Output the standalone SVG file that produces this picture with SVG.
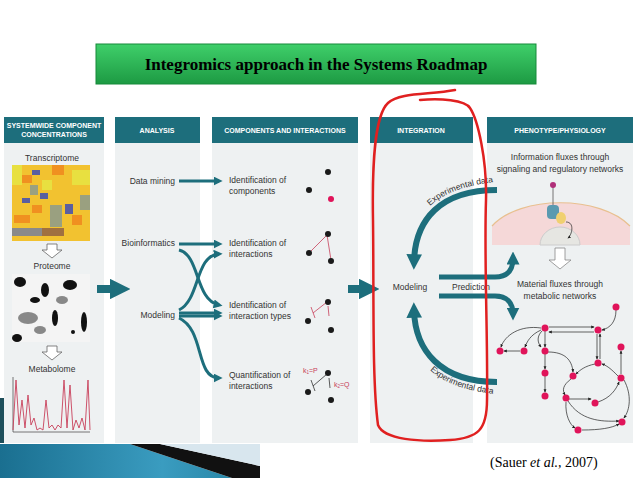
<svg xmlns="http://www.w3.org/2000/svg" width="638" height="478" viewBox="0 0 638 478">
<defs>
<linearGradient id="tg" x1="0" y1="0" x2="0" y2="1"><stop offset="0" stop-color="#3fcf6a"/><stop offset="1" stop-color="#1d9a43"/></linearGradient>
<linearGradient id="fg" x1="0" y1="0" x2="1" y2="0"><stop offset="0" stop-color="#1a6f90"/><stop offset="0.7" stop-color="#3a9cc0"/><stop offset="1" stop-color="#2a88a8"/></linearGradient>
<marker id="ta" viewBox="0 0 10 10" refX="6" refY="5" markerWidth="3" markerHeight="3" orient="auto"><path d="M0,0L10,5L0,10z" fill="#1d6e7c"/></marker>
<marker id="ka" viewBox="0 0 10 10" refX="8" refY="5" markerWidth="5" markerHeight="5" orient="auto"><path d="M0,1L10,5L0,9z" fill="#222"/></marker>
<marker id="ba" viewBox="0 0 10 10" refX="5" refY="5" markerWidth="2.6" markerHeight="2.6" orient="auto"><path d="M0,0L10,5L0,10z" fill="#1d6e7c"/></marker>
</defs>
<style>
.pn{fill:#eef1f2}
.hd{fill:#1d6e7c}
.ht{font-family:"Liberation Sans",sans-serif;font-size:7px;font-weight:bold;fill:#fff;text-anchor:middle}
.t{font-family:"Liberation Sans",sans-serif;font-size:8.5px;fill:#333}
.c{text-anchor:middle}
.r{text-anchor:end}
.ar{fill:none;stroke:#1d6e7c;stroke-width:3;marker-end:url(#ta)}
.big{fill:none;stroke:#1d6e7c;stroke-width:8;marker-end:url(#ba)}
.k{fill:#1a1a1a}
.m{fill:#e0145a}
.na{fill:none;stroke:#222;stroke-width:0.7;marker-end:url(#ka)}
</style>
<rect width="638" height="478" fill="#fff"/>
<g id="title"><rect x="96" y="44" width="440" height="40" fill="url(#tg)" stroke="#168a3a"/><text x="316" y="70" font-family="Liberation Serif,serif" font-size="17" font-weight="bold" text-anchor="middle" fill="#000">Integromics approach in the Systems Roadmap</text></g>
<g id="panels">
<rect class="pn" x="4" y="117" width="100" height="326"/><rect class="hd" x="4" y="117" width="100" height="26"/>
<text class="ht" x="54" y="128">SYSTEMWIDE COMPONENT</text><text class="ht" x="54" y="137">CONCENTRATIONS</text>
<rect class="pn" x="115" y="117" width="85" height="326"/><rect class="hd" x="115" y="117" width="85" height="26"/><text class="ht" x="157" y="133">ANALYSIS</text>
<rect class="pn" x="212" y="117" width="146" height="326"/><rect class="hd" x="212" y="117" width="146" height="26"/><text class="ht" x="285" y="133">COMPONENTS AND INTERACTIONS</text>
<rect class="pn" x="370" y="117" width="103" height="326"/><rect class="hd" x="370" y="117" width="103" height="26"/><text class="ht" x="421" y="133">INTEGRATION</text>
<rect class="pn" x="487" y="117" width="146" height="326"/><rect class="hd" x="487" y="117" width="146" height="26"/><text class="ht" x="560" y="133">PHENOTYPE/PHYSIOLOGY</text>
<rect x="0" y="398" width="4" height="45" fill="#1d4e5a"/>
</g>
<g id="col1">
<text class="t c" x="52" y="161">Transcriptome</text>
<rect x="12" y="165" width="78" height="76" fill="#f2c230"/>
<g fill="#e8e040"><rect x="12" y="165" width="10" height="20"/><rect x="42" y="180" width="10" height="10"/><rect x="72" y="170" width="18" height="15"/></g>
<g fill="#f09020"><rect x="22" y="175" width="10" height="8"/><rect x="52" y="165" width="12" height="10"/><rect x="32" y="205" width="10" height="8"/><rect x="14" y="215" width="16" height="8"/><rect x="72" y="215" width="10" height="10"/></g>
<g fill="#5a5fa0"><rect x="32" y="170" width="8" height="5"/><rect x="40" y="193" width="8" height="6"/><rect x="65" y="204" width="8" height="10"/><rect x="22" y="198" width="8" height="5"/></g>
<g fill="#9aa080"><rect x="50" y="205" width="12" height="22"/><rect x="80" y="195" width="10" height="15"/><rect x="30" y="185" width="8" height="10"/></g>
<rect x="12" y="228" width="30" height="8" fill="#8a8a8a"/><rect x="42" y="228" width="22" height="8" fill="#a07040"/>
<path d="M47,244h10v6h5l-10,8l-10-8h5z" fill="#fff" stroke="#666" stroke-width="0.8"/>
<text class="t c" x="52" y="269">Proteome</text>
<rect x="12" y="274" width="78" height="68" fill="#f4f4f4"/>
<g fill="#111"><ellipse cx="20" cy="282" rx="6" ry="5"/><ellipse cx="45" cy="290" rx="4" ry="7"/><ellipse cx="70" cy="285" rx="7" ry="5"/><ellipse cx="55" cy="318" rx="3" ry="8"/><ellipse cx="84" cy="322" rx="3" ry="10"/><ellipse cx="17" cy="338" rx="5" ry="4"/><ellipse cx="35" cy="300" rx="5" ry="3"/><ellipse cx="73" cy="332" rx="2" ry="2"/></g>
<g fill="#888"><ellipse cx="28" cy="318" rx="10" ry="6"/><ellipse cx="62" cy="300" rx="6" ry="4"/><ellipse cx="40" cy="330" rx="6" ry="4"/></g>
<path d="M47,346h10v6h5l-10,8l-10-8h5z" fill="#fff" stroke="#666" stroke-width="0.8"/>
<text class="t c" x="52" y="372">Metabolome</text>
<path d="M13,377V432H90" fill="none" stroke="#555" stroke-width="0.8"/>
<path d="M13,430L16,380L19,425L22,400L25,428L28,395L31,425L34,418L37,430L40,428L43,430L46,400L49,428L52,425L55,430L58,425L61,428L64,380L67,428L70,385L73,430L76,420L79,428L82,418L85,430L88,380L90,430" fill="none" stroke="#c8405a" stroke-width="0.9"/>
</g>
<g id="connectors">
<path class="big" d="M97,289H120"/>
<path class="big" d="M348,289H369"/>
<path class="ar" d="M179,181H219"/>
<path class="ar" d="M179,244H219"/>
<path class="ar" d="M179,250C200,255 195,300 219,305"/>
<path class="ar" d="M179,310C200,300 195,255 219,254"/>
<path class="ar" d="M179,313H219"/>
<path class="ar" d="M179,316H219"/>
<path class="ar" d="M179,318C205,330 195,378 219,378"/>
<path fill="none" stroke="#1d6e7c" stroke-width="6" d="M497,190C440,190 415,220 414,262" marker-end="url(#ba)"/>
<path fill="none" stroke="#1d6e7c" stroke-width="6" d="M497,382C440,382 415,350 414,310" marker-end="url(#ba)"/>
<path fill="none" stroke="#1d6e7c" stroke-width="5" d="M439,277H495C508,277 513,270 513,258" marker-end="url(#ba)"/>
<path fill="none" stroke="#1d6e7c" stroke-width="5" d="M439,296H495C508,296 513,304 513,314" marker-end="url(#ba)"/>
</g>
<g id="col2">
<text class="t r" x="175" y="184">Data mining</text>
<text class="t r" x="175" y="246">Bioinformatics</text>
<text class="t r" x="175" y="318">Modeling</text>
</g>
<g id="col3">
<text class="t" x="229" y="183">Identification of</text><text class="t" x="229" y="194">components</text>
<text class="t" x="229" y="246">Identification of</text><text class="t" x="229" y="257">interactions</text>
<text class="t" x="229" y="308">Identification of</text><text class="t" x="229" y="319">interaction types</text>
<text class="t" x="229" y="378">Quantification of</text><text class="t" x="229" y="389">interactions</text>
<circle class="k" cx="328" cy="172" r="3"/><circle class="k" cx="309" cy="190" r="3"/><circle class="m" cx="331" cy="199" r="3"/>
<path d="M310,252L327,235L331,260" fill="none" stroke="#c8405a" stroke-width="0.8"/>
<circle class="k" cx="328" cy="234" r="3"/><circle class="k" cx="309" cy="253" r="3"/><circle class="k" cx="331" cy="261" r="3"/>
<path d="M313,313L327,302M311,307L315,318M329,316L328,306" fill="none" stroke="#c8405a" stroke-width="0.8"/>
<circle class="k" cx="328" cy="302" r="3"/><circle class="k" cx="308" cy="321" r="3"/><circle class="k" cx="331" cy="330" r="3"/>
<path d="M313,386L327,374M311,380L315,391M330,388L329,378" fill="none" stroke="#333" stroke-width="0.8"/>
<circle class="k" cx="328" cy="373" r="3"/><circle class="k" cx="308" cy="392" r="3"/><circle class="k" cx="331" cy="400" r="3"/>
<text x="303" y="373" font-family="Liberation Sans,sans-serif" font-size="7" fill="#c8405a">k<tspan font-size="4.5" dy="1">1</tspan><tspan dy="-1">=P</tspan></text>
<text x="334" y="387" font-family="Liberation Sans,sans-serif" font-size="7" fill="#c8405a">k<tspan font-size="4.5" dy="1">2</tspan><tspan dy="-1">=Q</tspan></text>
</g>
<g id="col4">
<text class="t c" x="410" y="290">Modeling</text>
<text class="t c" x="471" y="290">Prediction</text>
<path id="ed1" d="M430,206C445,192 468,184 505,181" fill="none"/>
<path id="ed2" d="M430,370C445,384 468,392 505,395" fill="none"/>
<text font-family="Liberation Sans,sans-serif" font-size="8.5" fill="#333"><textPath href="#ed1">Experimental data</textPath></text>
<text font-family="Liberation Sans,sans-serif" font-size="8.5" fill="#333"><textPath href="#ed2">Experimental data</textPath></text>
</g>
<g id="col5">
<text class="t c" x="560" y="160">Information fluxes through</text>
<text class="t c" x="560" y="172">signaling and regulatory networks</text>
<path d="M492,226C520,195 600,195 630,226V245H492z" fill="#f5d8d8"/>
<path d="M492,226C520,195 600,195 630,226" fill="none" stroke="#e8c090" stroke-width="1.2"/>
<path d="M540,245A20,18 0 0 1 580,245z" fill="#e6e6e2" stroke="#ccc"/>
<line x1="553" y1="186" x2="553" y2="205" stroke="#555" stroke-width="0.8"/>
<circle cx="553" cy="185" r="3" fill="#b0307a"/>
<rect x="547" y="205" width="12" height="14" rx="4" fill="#5a9ab0"/>
<ellipse cx="561" cy="218" rx="5" ry="6" fill="#f0d070"/>
<path d="M566,222C575,222 572,235 568,238" class="na"/>
<path d="M555,248h10v12h6l-11,9l-11-9h6z" fill="#fff" stroke="#888" stroke-width="0.8"/>
<text class="t c" x="560" y="287">Material fluxes through</text>
<text class="t c" x="560" y="299">metabolic networks</text>
<g class="nw">
<path class="na" d="M549,327H594"/><path class="na" d="M594,332H549"/>
<path class="na" d="M616,310C616,322 610,328 602,330"/>
<path class="na" d="M541,328C520,325 505,335 501,347"/>
<path class="na" d="M520,351H504"/>
<path class="na" d="M541,330C530,335 527,342 525,347"/>
<path class="na" d="M542,331C537,336 537,342 541,347"/>
<path class="na" d="M545,331V347"/><path class="na" d="M545,354V369"/><path class="na" d="M545,376V392"/>
<path class="na" d="M597,334V359"/><path class="na" d="M600,359V334"/>
<path class="na" d="M548,352C565,352 572,360 573,372"/>
<path class="na" d="M595,364C585,366 580,370 576,374"/>
<path class="na" d="M621,374V351"/>
<path class="na" d="M618,376C612,370 608,366 602,364"/>
<path class="na" d="M571,379C563,385 562,390 565,395"/>
<path class="na" d="M569,399H591"/>
<path class="na" d="M598,402C610,398 616,390 619,382"/>
<path class="na" d="M624,380C632,395 630,410 624,418"/>
<path class="na" d="M568,401C580,420 600,422 619,421"/>
<path class="na" d="M566,402C565,415 570,425 575,428"/>
<path class="na" d="M582,430C600,430 612,428 619,424"/>
</g>
<g class="m"><circle cx="545" cy="328" r="3.5"/><circle cx="598" cy="330" r="3.5"/><circle cx="616" cy="307" r="3.5"/><circle cx="500" cy="351" r="3.5"/><circle cx="524" cy="351" r="3.5"/><circle cx="545" cy="351" r="3.5"/><circle cx="545" cy="373" r="3.5"/><circle cx="545" cy="396" r="3.5"/><circle cx="598" cy="363" r="3.5"/><circle cx="621" cy="347" r="3.5"/><circle cx="573" cy="376" r="3.5"/><circle cx="621" cy="378" r="3.5"/><circle cx="566" cy="398" r="3.5"/><circle cx="595" cy="403" r="3.5"/><circle cx="622" cy="422" r="3.5"/><circle cx="578" cy="430" r="3.5"/></g>
</g>
<path id="redloop" d="M455,90C430,95 400,92 388,103C375,115 372,160 373,220C374,300 372,380 378,425C384,440 420,442 450,440C478,438 487,430 487,400C488,340 484,260 486,200C487,160 478,120 470,108C465,100 440,98 420,100" fill="none" stroke="#e02020" stroke-width="2.5" stroke-linecap="round"/>
<g id="footer">
<path d="M0,444H130L232,478H0z" fill="url(#fg)"/>
<path d="M130,444H160L260,466V478H232z" fill="#111"/>
<path d="M160,444H260V466z" fill="#d8e6ee"/>
<text x="490" y="467" font-family="Liberation Serif,serif" font-size="14" fill="#000">(Sauer <tspan font-style="italic">et al.,</tspan> 2007)</text>
</g>
</svg>
